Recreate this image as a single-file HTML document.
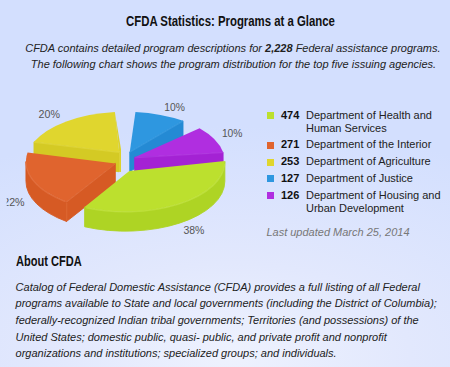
<!DOCTYPE html>
<html><head><meta charset="utf-8">
<style>
html,body{margin:0;padding:0;}
body{width:450px;height:367px;overflow:hidden;position:relative;background:#D3DFFE radial-gradient(ellipse 450px 230px at 230px 355px,#EEF2FE 0%,#E2E8FD 40%,#D3DFFE 100%);
 font-family:"Liberation Sans",sans-serif;color:#222;}
.t{position:absolute;white-space:nowrap;line-height:1;}
.it{font-style:italic;font-size:11px;color:#222;}
.lg{font-size:11px;color:#222;}
.num{font-weight:bold;font-size:11px;color:#111;}
.ttl{font-weight:bold;font-size:14px;color:#111;transform:scaleX(0.813);transform-origin:0 0;}
.abt{font-weight:bold;font-size:14px;color:#111;transform:scaleX(0.79);transform-origin:0 0;}
.sq{position:absolute;width:7px;height:7px;}
</style></head><body>
<div class="t ttl" style="left:126px;top:14.2px;">CFDA Statistics: Programs at a Glance</div>
<div class="t it" style="left:25.2px;top:42.8px;">CFDA contains detailed program descriptions for <b>2,228</b> Federal assistance programs.</div>
<div class="t it" style="left:30.8px;top:59.0px;">The following chart shows the program distribution for the top five issuing agencies.</div>
<svg style="position:absolute;left:0;top:0" width="450" height="367" viewBox="0 0 450 367"><defs><clipPath id="cp"><rect x="6.7" y="0" width="450" height="367"/></clipPath></defs>
<path d="M129.80 151.80 L183.01 120.84 L183.01 140.58 L129.80 171.54 Z" fill="#248AD4" stroke="#248AD4" stroke-width="0.9"/>
<path d="M129.80 151.80 L135.45 111.88 A99.45 49.89 0 0 1 183.01 120.84 Z" fill="#2E97E0"/>
<path d="M129.80 152.30 L183.01 121.34" fill="none" stroke="#48A6E8" stroke-width="1.0" stroke-opacity="0.45"/>
<path d="M119.20 152.00 L33.99 141.86 L33.99 161.60 L119.20 171.74 Z" fill="#D4CA24" stroke="#D4CA24" stroke-width="0.9"/>
<path d="M119.20 152.00 L33.99 141.86 A99.45 49.89 0 0 1 114.83 111.90 Z" fill="#E0D62E"/>
<path d="M119.20 152.50 L33.99 142.36" fill="none" stroke="#E8E04A" stroke-width="1.0" stroke-opacity="0.45"/>
<path d="M119.2 152 L114.83 111.90 L121.0 149.3 L121.0 172.0 L119.2 171.74 Z" fill="#DCD22B"/>
<path d="M134.70 157.30 L223.09 152.16 L223.09 171.90 L134.70 177.04 Z" fill="#A422D4" stroke="#A422D4" stroke-width="0.9"/>
<path d="M134.70 157.30 L199.54 128.26 A99.45 49.89 0 0 1 223.09 152.16 Z" fill="#B02EE0"/>
<path d="M134.70 157.80 L223.09 152.66" fill="none" stroke="#BC48E8" stroke-width="1.0" stroke-opacity="0.45"/>
<path d="M66.52 201.72 A99.45 49.89 0 0 1 25.95 161.51 L25.95 181.25 A99.45 49.89 0 0 0 66.52 221.46 Z" fill="#D65A24" stroke="#D65A24" stroke-width="0.9"/>
<path d="M115.30 163.40 L66.52 201.72 L66.52 221.46 L115.30 183.14 Z" fill="#D65A24" stroke="#D65A24" stroke-width="0.9"/>
<path d="M115.30 163.40 L66.52 201.72 A99.45 49.89 0 0 1 27.55 152.59 Z" fill="#E0642E"/>
<path d="M115.30 163.90 L66.52 202.22" fill="none" stroke="#E87848" stroke-width="1.0" stroke-opacity="0.45"/>
<path d="M65.13 201.70 A99.45 49.89 0 0 1 25.95 162.01" fill="none" stroke="#E87848" stroke-width="1.3" stroke-opacity="0.55"/>
<path d="M66.82 202.72 L66.82 220.96" stroke="#E87848" stroke-width="1" stroke-opacity="0.5"/>
<path d="M224.85 161.51 A99.45 49.89 0 0 1 84.63 207.02 L84.63 226.76 A99.45 49.89 0 0 0 224.85 181.25 Z" fill="#AED424" stroke="#AED424" stroke-width="0.9"/>
<path d="M129.30 171.10 L224.84 160.99 A99.45 49.89 0 0 1 84.63 207.02 Z" fill="#BCE02E"/>
<path d="M224.79 163.75 A99.45 49.89 0 0 1 86.22 207.87" fill="none" stroke="#C8E84A" stroke-width="1.3" stroke-opacity="0.55"/>
<g clip-path="url(#cp)" font-family="Liberation Sans" font-size="10" fill="#555"><text x="38.6" y="117.8" textLength="21.4" lengthAdjust="spacingAndGlyphs">20%</text><text x="164.2" y="111.4" textLength="20.6" lengthAdjust="spacingAndGlyphs">10%</text><text x="221.9" y="136.6" textLength="20.6" lengthAdjust="spacingAndGlyphs">10%</text><text x="3.2" y="206.4" textLength="21.4" lengthAdjust="spacingAndGlyphs">22%</text><text x="183.4" y="234.0" textLength="21.0" lengthAdjust="spacingAndGlyphs">38%</text></g></svg>
<div class="sq" style="left:267px;top:111.9px;background:#BCE02E"></div>
<div class="t num" style="left:281px;top:109.59px;">474</div>
<div class="t lg" style="left:306px;top:109.59px;">Department of Health and</div>
<div class="t lg" style="left:306px;top:122.59px;">Human Services</div>
<div class="sq" style="left:267px;top:141.6px;background:#E0642E"></div>
<div class="t num" style="left:281px;top:139.29px;">271</div>
<div class="t lg" style="left:306px;top:139.29px;">Department of the Interior</div>
<div class="sq" style="left:267px;top:158.6px;background:#E0D62E"></div>
<div class="t num" style="left:281px;top:156.29px;">253</div>
<div class="t lg" style="left:306px;top:156.29px;">Department of Agriculture</div>
<div class="sq" style="left:267px;top:175.0px;background:#2E97E0"></div>
<div class="t num" style="left:281px;top:172.69px;">127</div>
<div class="t lg" style="left:306px;top:172.69px;">Department of Justice</div>
<div class="sq" style="left:267px;top:192.0px;background:#B02EE0"></div>
<div class="t num" style="left:281px;top:189.69px;">126</div>
<div class="t lg" style="left:306px;top:189.69px;">Department of Housing and</div>
<div class="t lg" style="left:306px;top:202.69px;">Urban Development</div>
<div class="t it" style="left:266.4px;top:226.69px;color:#777">Last updated March 25, 2014</div>
<div class="t abt" style="left:15.6px;top:253.95000000000002px;">About CFDA</div>
<div class="t it" style="left:15.6px;top:281.79px;">Catalog of Federal Domestic Assistance (CFDA) provides a full listing of all Federal</div>
<div class="t it" style="left:15.6px;top:298.29px;">programs available to State and local governments (including the District of Columbia);</div>
<div class="t it" style="left:15.6px;top:315.09px;">federally-recognized Indian tribal governments; Territories (and possessions) of the</div>
<div class="t it" style="left:15.6px;top:331.59px;">United States; domestic public, quasi- public, and private profit and nonprofit</div>
<div class="t it" style="left:15.6px;top:347.89px;">organizations and institutions; specialized groups; and individuals.</div>
</body></html>
